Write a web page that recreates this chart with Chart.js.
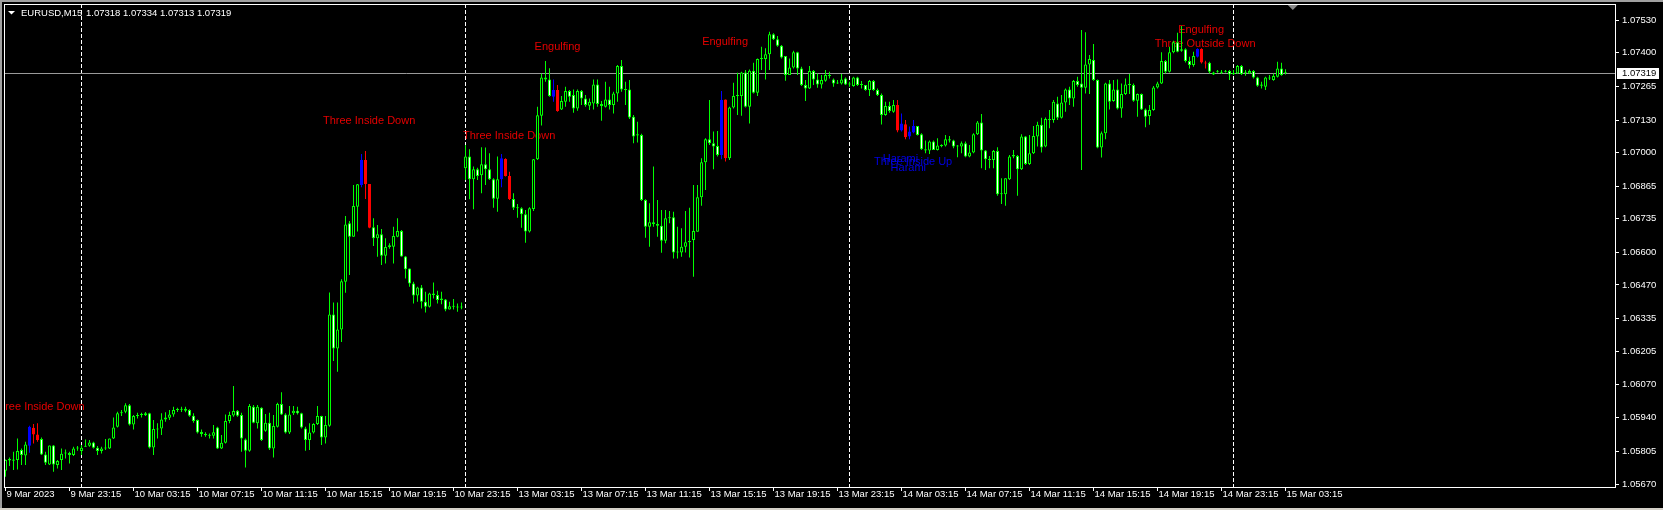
<!DOCTYPE html>
<html><head><meta charset="utf-8">
<script src="https://cdn.jsdelivr.net/npm/chart.js@4/dist/chart.umd.min.js"></script>
<style>html,body{margin:0;padding:0;background:#000;overflow:hidden}canvas{display:block}</style>
</head><body>
<canvas id="c" width="1663" height="510"></canvas>
<script>
const symbolTitle = 'EURUSD,M15';
const open = [
1.05726,1.05767,1.05771,1.05769,1.05809,1.05787,1.05826,1.05898,1.05871,1.05853,
1.05791,1.05751,1.05827,1.05749,1.05769,1.05795,1.05797,1.05789,1.05815,1.05805,
1.05822,1.05826,1.05839,1.05818,1.05805,1.05815,1.05815,1.05855,1.05902,1.05956,
1.05962,1.05988,1.05911,1.05945,1.05949,1.05948,1.05956,1.05819,1.05893,1.05895,
1.05931,1.05938,1.05951,1.05969,1.05970,1.05966,1.05969,1.05946,1.05929,1.05881,
1.05873,1.05868,1.05866,1.05899,1.05815,1.05838,1.05925,1.05947,1.05966,1.05949,
1.05851,1.05806,1.05982,1.05916,1.05978,1.05886,1.05918,1.05815,1.05902,1.05993,
1.05951,1.05879,1.05956,1.05966,1.05956,1.05895,1.05849,1.05879,1.05913,1.05945,
1.05859,1.05906,1.06352,1.06216,1.06292,1.06483,1.06717,1.06663,1.06783,1.06870,
1.06970,1.06874,1.06701,1.06657,1.06673,1.06587,1.06622,1.06623,1.06663,1.06686,
1.06584,1.06536,1.06476,1.06428,1.06460,1.06403,1.06383,1.06436,1.06430,1.06410,
1.06412,1.06372,1.06385,1.06383,1.06380,1.06937,1.06984,1.06893,1.06933,1.06909,
1.06953,1.06933,1.06893,1.06815,1.06893,1.06974,1.06906,1.06814,1.06779,1.06777,
1.06753,1.06684,1.06774,1.06973,1.07148,1.07301,1.07293,1.07224,1.07251,1.07173,
1.07204,1.07247,1.07231,1.07177,1.07247,1.07217,1.07188,1.07197,1.07273,1.07195,
1.07184,1.07213,1.07191,1.07237,1.07347,1.07253,1.07253,1.07144,1.07068,1.07070,
1.06810,1.06703,1.06721,1.06714,1.06707,1.06647,1.06737,1.06741,1.06600,1.06600,
1.06623,1.06641,1.06650,1.06683,1.06821,1.06961,1.07053,1.07037,1.07026,1.06990,
1.07213,1.06977,1.07181,1.07227,1.07227,1.07321,1.07184,1.07328,1.07240,1.07375,
1.07375,1.07394,1.07474,1.07454,1.07428,1.07387,1.07311,1.07341,1.07402,1.07337,
1.07271,1.07257,1.07327,1.07293,1.07273,1.07288,1.07311,1.07293,1.07277,1.07277,
1.07297,1.07273,1.07267,1.07301,1.07271,1.07271,1.07251,1.07287,1.07251,1.07231,
1.07151,1.07187,1.07164,1.07191,1.07088,1.07114,1.07064,1.07080,1.07106,1.07073,
1.07013,1.07008,1.07044,1.07010,1.07028,1.07028,1.07053,1.07048,1.07024,1.07024,
1.07037,1.06984,1.07000,1.07073,1.07121,1.07008,1.06973,1.06970,1.07006,1.06833,
1.06833,1.06893,1.06984,1.06986,1.06933,1.07064,1.06954,1.06997,1.07064,1.07111,
1.07024,1.07135,1.07131,1.07197,1.07140,1.07201,1.07253,1.07217,1.07287,1.07277,
1.07260,1.07353,1.07371,1.07291,1.07020,1.07077,1.07277,1.07207,1.07253,1.07177,
1.07235,1.07273,1.07271,1.07208,1.07235,1.07173,1.07147,1.07171,1.07261,1.07277,
1.07367,1.07324,1.07402,1.07442,1.07408,1.07414,1.07367,1.07351,1.07384,1.07415,
1.07361,1.07360,1.07321,1.07324,1.07324,1.07324,1.07327,1.07315,1.07317,1.07347,
1.07320,1.07317,1.07327,1.07301,1.07268,1.07264,1.07301,1.07291,1.07304,1.07337,
1.07318];
const high = [
1.05771,1.05779,1.05802,1.05855,1.05815,1.05842,1.05906,1.05913,1.05916,1.05859,
1.05802,1.05827,1.05829,1.05769,1.05815,1.05811,1.05802,1.05822,1.05825,1.05829,
1.05851,1.05849,1.05842,1.05825,1.05822,1.05853,1.05855,1.05939,1.05962,1.05969,
1.05996,1.05993,1.05949,1.05958,1.05958,1.05961,1.05958,1.05929,1.05916,1.05956,
1.05960,1.05969,1.05982,1.05978,1.05982,1.05982,1.05972,1.05956,1.05931,1.05891,
1.05880,1.05875,1.05909,1.05902,1.05869,1.05951,1.05962,1.06065,1.05969,1.05958,
1.05855,1.05993,1.05989,1.05989,1.05980,1.05953,1.05958,1.05949,1.05998,1.06040,
1.05956,1.05985,1.05985,1.05982,1.05958,1.05902,1.05916,1.05916,1.05985,1.05946,
1.05945,1.06440,1.06400,1.06400,1.06493,1.06746,1.06726,1.06870,1.06874,1.06994,
1.07006,1.06874,1.06737,1.06710,1.06694,1.06657,1.06637,1.06703,1.06737,1.06690,
1.06586,1.06536,1.06483,1.06463,1.06470,1.06443,1.06439,1.06480,1.06447,1.06443,
1.06414,1.06403,1.06414,1.06396,1.06400,1.07030,1.07013,1.06944,1.06939,1.07021,
1.07020,1.06997,1.06897,1.06984,1.06994,1.06977,1.06923,1.06837,1.06794,1.06781,
1.06770,1.06781,1.06974,1.07184,1.07317,1.07367,1.07338,1.07293,1.07271,1.07227,
1.07264,1.07251,1.07253,1.07253,1.07251,1.07231,1.07217,1.07293,1.07293,1.07207,
1.07284,1.07264,1.07244,1.07351,1.07371,1.07284,1.07291,1.07151,1.07124,1.07075,
1.06813,1.06797,1.06944,1.06810,1.06770,1.06770,1.06766,1.06763,1.06703,1.06697,
1.06766,1.06779,1.06870,1.06870,1.06977,1.07057,1.07211,1.07084,1.07086,1.07247,
1.07213,1.07184,1.07280,1.07320,1.07324,1.07331,1.07333,1.07360,1.07377,1.07424,
1.07418,1.07484,1.07478,1.07467,1.07431,1.07387,1.07377,1.07408,1.07404,1.07344,
1.07291,1.07347,1.07331,1.07317,1.07311,1.07331,1.07324,1.07297,1.07291,1.07315,
1.07301,1.07284,1.07304,1.07304,1.07287,1.07271,1.07291,1.07291,1.07257,1.07237,
1.07204,1.07204,1.07211,1.07211,1.07157,1.07131,1.07104,1.07131,1.07106,1.07077,
1.07048,1.07048,1.07048,1.07057,1.07033,1.07070,1.07066,1.07051,1.07030,1.07044,
1.07044,1.07030,1.07077,1.07127,1.07155,1.07010,1.06986,1.07010,1.07021,1.06897,
1.06897,1.06990,1.07010,1.06990,1.07073,1.07066,1.07070,1.07106,1.07124,1.07140,
1.07141,1.07171,1.07211,1.07224,1.07231,1.07257,1.07264,1.07291,1.07304,1.07491,
1.07482,1.07391,1.07435,1.07293,1.07084,1.07280,1.07291,1.07291,1.07293,1.07277,
1.07297,1.07315,1.07277,1.07237,1.07237,1.07177,1.07191,1.07267,1.07284,1.07402,
1.07371,1.07424,1.07448,1.07480,1.07507,1.07418,1.07384,1.07404,1.07418,1.07418,
1.07368,1.07364,1.07324,1.07331,1.07331,1.07331,1.07331,1.07331,1.07351,1.07351,
1.07331,1.07333,1.07331,1.07304,1.07284,1.07304,1.07311,1.07317,1.07364,1.07360,
1.07334];
const low = [
1.05702,1.05745,1.05729,1.05731,1.05749,1.05749,1.05798,1.05835,1.05842,1.05789,
1.05749,1.05749,1.05722,1.05735,1.05729,1.05775,1.05755,1.05785,1.05806,1.05789,
1.05822,1.05822,1.05815,1.05789,1.05795,1.05809,1.05813,1.05853,1.05899,1.05945,
1.05956,1.05907,1.05891,1.05935,1.05939,1.05945,1.05815,1.05789,1.05855,1.05869,
1.05922,1.05929,1.05942,1.05961,1.05961,1.05960,1.05942,1.05918,1.05875,1.05862,
1.05862,1.05855,1.05855,1.05813,1.05813,1.05835,1.05916,1.05942,1.05942,1.05802,
1.05739,1.05802,1.05916,1.05895,1.05845,1.05882,1.05809,1.05779,1.05899,1.05949,
1.05875,1.05873,1.05949,1.05951,1.05895,1.05806,1.05809,1.05875,1.05909,1.05829,
1.05835,1.05902,1.06166,1.06122,1.06242,1.06439,1.06510,1.06663,1.06684,1.06861,
1.06814,1.06697,1.06626,1.06583,1.06550,1.06556,1.06615,1.06556,1.06661,1.06583,
1.06496,1.06463,1.06396,1.06403,1.06376,1.06360,1.06380,1.06416,1.06396,1.06393,
1.06365,1.06372,1.06372,1.06363,1.06373,1.06890,1.06813,1.06773,1.06890,1.06837,
1.06870,1.06890,1.06779,1.06763,1.06861,1.06904,1.06810,1.06770,1.06739,1.06699,
1.06639,1.06680,1.06766,1.06970,1.07108,1.07284,1.07224,1.07204,1.07164,1.07171,
1.07184,1.07204,1.07160,1.07168,1.07191,1.07184,1.07171,1.07173,1.07184,1.07128,
1.07181,1.07173,1.07157,1.07204,1.07244,1.07191,1.07135,1.07037,1.07040,1.06806,
1.06659,1.06623,1.06703,1.06663,1.06599,1.06637,1.06717,1.06576,1.06576,1.06583,
1.06600,1.06580,1.06503,1.06683,1.06787,1.06850,1.07030,1.06933,1.06984,1.06973,
1.06964,1.06970,1.07177,1.07151,1.07148,1.07181,1.07117,1.07237,1.07227,1.07331,
1.07293,1.07331,1.07451,1.07424,1.07377,1.07288,1.07311,1.07337,1.07311,1.07267,
1.07207,1.07255,1.07271,1.07260,1.07257,1.07284,1.07297,1.07264,1.07275,1.07273,
1.07271,1.07264,1.07264,1.07267,1.07257,1.07248,1.07227,1.07248,1.07227,1.07113,
1.07148,1.07160,1.07160,1.07081,1.07084,1.07053,1.07053,1.07077,1.07068,1.07010,
1.06997,1.06994,1.07010,1.07008,1.07021,1.07024,1.07040,1.07017,1.06981,1.06997,
1.06981,1.06981,1.06997,1.07070,1.06937,1.06930,1.06937,1.06937,1.06827,1.06794,
1.06787,1.06890,1.06977,1.06827,1.06930,1.06950,1.06950,1.06994,1.07024,1.07000,
1.07021,1.07097,1.07120,1.07131,1.07137,1.07164,1.07191,1.07184,1.07264,1.06930,
1.07237,1.07235,1.07288,1.07017,1.06980,1.07053,1.07173,1.07204,1.07173,1.07140,
1.07231,1.07235,1.07204,1.07144,1.07171,1.07101,1.07111,1.07168,1.07257,1.07275,
1.07317,1.07321,1.07398,1.07402,1.07404,1.07361,1.07337,1.07344,1.07381,1.07357,
1.07337,1.07317,1.07311,1.07320,1.07315,1.07321,1.07291,1.07311,1.07315,1.07311,
1.07308,1.07315,1.07297,1.07264,1.07257,1.07251,1.07291,1.07288,1.07301,1.07308,
1.07313];
const close = [
1.05769,1.05773,1.05766,1.05805,1.05789,1.05831,1.05902,1.05871,1.05849,1.05791,
1.05758,1.05827,1.05751,1.05765,1.05794,1.05798,1.05789,1.05815,1.05818,1.05818,
1.05826,1.05839,1.05818,1.05805,1.05815,1.05818,1.05855,1.05899,1.05956,1.05960,
1.05988,1.05911,1.05945,1.05949,1.05951,1.05956,1.05819,1.05893,1.05891,1.05931,
1.05939,1.05951,1.05969,1.05970,1.05973,1.05974,1.05946,1.05925,1.05879,1.05873,
1.05868,1.05866,1.05880,1.05815,1.05838,1.05925,1.05949,1.05965,1.05946,1.05855,
1.05806,1.05985,1.05918,1.05982,1.05849,1.05918,1.05815,1.05905,1.05993,1.05951,
1.05879,1.05951,1.05966,1.05956,1.05899,1.05849,1.05879,1.05913,1.05945,1.05859,
1.05909,1.06352,1.06216,1.06292,1.06485,1.06712,1.06663,1.06786,1.06873,1.06970,
1.06874,1.06699,1.06657,1.06673,1.06587,1.06622,1.06629,1.06666,1.06686,1.06584,
1.06533,1.06476,1.06428,1.06460,1.06403,1.06383,1.06436,1.06430,1.06410,1.06416,
1.06372,1.06385,1.06383,1.06380,1.06383,1.06984,1.06893,1.06933,1.06906,1.06953,
1.06933,1.06893,1.06815,1.06893,1.06977,1.06906,1.06814,1.06779,1.06777,1.06753,
1.06684,1.06777,1.06973,1.07150,1.07301,1.07293,1.07227,1.07251,1.07167,1.07207,
1.07247,1.07224,1.07177,1.07247,1.07217,1.07191,1.07204,1.07273,1.07195,1.07187,
1.07213,1.07191,1.07237,1.07347,1.07253,1.07251,1.07141,1.07064,1.07073,1.06810,
1.06703,1.06721,1.06714,1.06707,1.06647,1.06737,1.06741,1.06600,1.06604,1.06623,
1.06641,1.06646,1.06686,1.06821,1.06961,1.07053,1.07037,1.07024,1.06990,1.07211,
1.06977,1.07181,1.07227,1.07231,1.07321,1.07184,1.07328,1.07240,1.07375,1.07377,
1.07394,1.07474,1.07454,1.07428,1.07381,1.07311,1.07341,1.07402,1.07337,1.07271,
1.07257,1.07327,1.07293,1.07273,1.07291,1.07311,1.07307,1.07277,1.07281,1.07293,
1.07273,1.07277,1.07301,1.07271,1.07273,1.07251,1.07287,1.07251,1.07231,1.07151,
1.07187,1.07167,1.07191,1.07088,1.07117,1.07061,1.07084,1.07106,1.07070,1.07013,
1.07008,1.07044,1.07010,1.07028,1.07026,1.07053,1.07048,1.07024,1.07026,1.07037,
1.06984,1.07000,1.07073,1.07121,1.07008,1.06973,1.06970,1.07006,1.06833,1.06837,
1.06897,1.06984,1.06990,1.06933,1.07064,1.06954,1.06997,1.07066,1.07111,1.07020,
1.07135,1.07131,1.07204,1.07140,1.07201,1.07253,1.07217,1.07287,1.07271,1.07260,
1.07353,1.07375,1.07291,1.07020,1.07077,1.07277,1.07204,1.07253,1.07177,1.07235,
1.07273,1.07271,1.07208,1.07235,1.07173,1.07144,1.07171,1.07261,1.07277,1.07367,
1.07324,1.07402,1.07442,1.07404,1.07414,1.07367,1.07351,1.07387,1.07415,1.07361,
1.07357,1.07324,1.07313,1.07328,1.07320,1.07327,1.07313,1.07317,1.07347,1.07315,
1.07324,1.07327,1.07301,1.07268,1.07273,1.07301,1.07297,1.07307,1.07337,1.07311,
1.07319];

const xTickLabels = ['9 Mar 2023','9 Mar 23:15','10 Mar 03:15','10 Mar 07:15','10 Mar 11:15','10 Mar 15:15','10 Mar 19:15','10 Mar 23:15','13 Mar 03:15','13 Mar 07:15','13 Mar 11:15','13 Mar 15:15','13 Mar 19:15','13 Mar 23:15','14 Mar 03:15','14 Mar 07:15','14 Mar 11:15','14 Mar 15:15','14 Mar 19:15','14 Mar 23:15','15 Mar 03:15'];
const barsPerTick = 16;
const yTickValues = [1.05670,1.05805,1.05940,1.06070,1.06205,1.06335,1.06470,1.06600,1.06735,1.06865,1.07000,1.07130,1.07265,1.07400,1.07530];
const daySeparatorBars = [19, 115, 211, 307];
const bluePatternBars = [6, 89, 124, 137, 179, 224, 226, 227, 298];
const redPatternBars = [7, 8, 90, 91, 125, 126, 138, 180, 223, 225, 299, 300];
const patternText = ['Three Inside Down','Three Inside Down','Three Inside Down','Engulfing','Engulfing','Harami','Three Inside Up','Harami','Engulfing','Three Outside Down'];
const patternBar = [8.25, 90.9, 125.9, 138.0, 179.9, 223.75, 226.9, 225.7, 298.9, 299.9];
const patternPrice = [1.05981, 1.07128, 1.07068, 1.07423, 1.07443, 1.06976, 1.06962, 1.06937, 1.07492, 1.07433];
const patternKind = ['bear','bear','bear','bear','bear','bull','bull','bull','bear','bear'];

const FONT = "'Liberation Sans', Arial, sans-serif";
Chart.defaults.font.family = FONT;
const n = open.length;
const lastIdx = n - 1;
const currentPrice = close[lastIdx];

function candleColor(i){
  if (bluePatternBars.includes(i)) return '#0000ff';
  if (redPatternBars.includes(i)) return '#ff0000';
  return '#00ff00';
}
function bodyFill(i){
  const c = candleColor(i);
  if (c !== '#00ff00') return c;
  return close[i] >= open[i] ? '#000000' : '#ffffff';
}

const wickData = open.map((o, i) => ({x: i, y: [low[i], high[i]]}));
const bodyData = open.map((o, i) => ({x: i, y: [Math.min(o, close[i]), Math.max(o, close[i])]}));

const decorPlugin = {
  id: 'decor',
  beforeDraw(chart){
    const c = chart.ctx;
    c.save();
    c.fillStyle = '#000';
    c.fillRect(0, 0, chart.width, chart.height);
    c.fillStyle = '#a0a0a0';
    c.fillRect(0, 0, chart.width, 2);
    c.fillRect(0, 0, 2, chart.height);
    c.fillStyle = '#d4d0c8';
    c.fillRect(0, chart.height - 2, chart.width, 2);
    c.restore();
  },
  beforeDatasetsDraw(chart){
    const c = chart.ctx, a = chart.chartArea;
    const xs = chart.scales.x, ys = chart.scales.y;
    c.save();
    c.beginPath(); c.rect(a.left, a.top, a.right - a.left, a.bottom - a.top); c.clip();
    c.strokeStyle = '#ffffff'; c.lineWidth = 1; c.setLineDash([4, 2]);
    daySeparatorBars.forEach(b => {
      const x = Math.round(xs.getPixelForValue(b)) + 0.5 - 1;
      c.beginPath(); c.moveTo(x, a.top); c.lineTo(x, a.bottom); c.stroke();
    });
    c.setLineDash([]);
    const py = Math.round(ys.getPixelForValue(currentPrice)) + 0.5;
    c.strokeStyle = '#9a9a9a';
    c.beginPath(); c.moveTo(a.left, py); c.lineTo(a.right, py); c.stroke();
    c.font = '11px ' + FONT;
    c.textAlign = 'center'; c.textBaseline = 'middle';
    patternText.forEach((t, k) => {
      c.fillStyle = patternKind[k] === 'bull' ? '#0000e6' : '#e60000';
      c.fillText(t, xs.getPixelForValue(patternBar[k]), ys.getPixelForValue(patternPrice[k]));
    });
    c.restore();
  },
  afterDraw(chart){
    const c = chart.ctx, a = chart.chartArea;
    const ys = chart.scales.y;
    c.save();
    c.strokeStyle = '#ffffff'; c.lineWidth = 1;
    c.strokeRect(a.left + 0.5, a.top + 0.5, a.right - a.left, a.bottom - a.top);
    const py = ys.getPixelForValue(currentPrice);
    c.fillStyle = '#ffffff';
    c.fillRect(a.right + 2, Math.round(py) - 5, 42, 11);
    c.fillStyle = '#000000';
    c.font = '9.5px ' + FONT;
    c.textAlign = 'left'; c.textBaseline = 'middle';
    c.fillText(currentPrice.toFixed(5), a.right + 7, Math.round(py) + 0.5);
    const sx = a.left + 0.8 * (a.right - a.left);
    c.fillStyle = '#8a8a8a';
    c.beginPath(); c.moveTo(sx - 5, a.top + 1); c.lineTo(sx + 5, a.top + 1); c.lineTo(sx, a.top + 6); c.closePath(); c.fill();
    c.fillStyle = '#ffffff';
    c.beginPath(); c.moveTo(8, 11); c.lineTo(15, 11); c.lineTo(11.5, 14.5); c.closePath(); c.fill();
    c.font = '9.5px ' + FONT;
    c.textAlign = 'left'; c.textBaseline = 'middle';
    const ohlc = [open[lastIdx], high[lastIdx], low[lastIdx], close[lastIdx]].map(v => v.toFixed(5)).join(' ');
    c.fillText(symbolTitle, 21, 13);
    c.fillText(ohlc, 86, 13);
    c.restore();
  }
};

new Chart(document.getElementById('c'), {
  data: {
    datasets: [
      { type: 'bar', label: 'wick', data: wickData, barThickness: 1, grouped: false, order: 2,
        backgroundColor: ctx => candleColor(ctx.dataIndex), borderWidth: 0, inflateAmount: 0, minBarLength: 1 },
      { type: 'bar', label: 'body', data: bodyData, barThickness: 3, grouped: false, order: 1,
        backgroundColor: ctx => bodyFill(ctx.dataIndex), borderColor: ctx => candleColor(ctx.dataIndex),
        borderWidth: 1, borderSkipped: false, inflateAmount: 0, minBarLength: 1 }
    ]
  },
  options: {
    responsive: false, animation: false, events: [],
    layout: { padding: { left: 4, top: 4, right: 0, bottom: 0 } },
    plugins: { legend: { display: false }, tooltip: { enabled: false } },
    scales: {
      x: {
        type: 'linear', offset: false, min: -0.375, max: 402.375, position: 'bottom',
        afterBuildTicks: s => { s.ticks = xTickLabels.map((_, k) => ({ value: k * barsPerTick })); },
        afterFit: s => { s.height = 23; s.paddingLeft = 0; s.paddingRight = 0; },
        ticks: { color: '#ffffff', font: { size: 9.5 }, align: 'start', labelOffset: 1, maxRotation: 0, autoSkip: false, padding: -2,
          callback: (v, idx) => xTickLabels[idx] },
        grid: { offset: false, drawOnChartArea: false, drawTicks: true, tickLength: 4, color: '#ffffff' },
        border: { display: false }
      },
      y: {
        type: 'linear', position: 'right', min: 1.05661, max: 1.07595,
        afterBuildTicks: s => { s.ticks = yTickValues.map(v => ({ value: v })); },
        afterFit: s => { s.width = 48; s.paddingTop = 0; s.paddingBottom = 0; },
        ticks: { color: '#ffffff', font: { size: 9.5 }, padding: 3, autoSkip: false, callback: v => v.toFixed(5) },
        grid: { drawOnChartArea: false, drawTicks: true, tickLength: 4, color: '#ffffff' },
        border: { display: false }
      }
    }
  },
  plugins: [decorPlugin]
});
</script>
</body></html>
